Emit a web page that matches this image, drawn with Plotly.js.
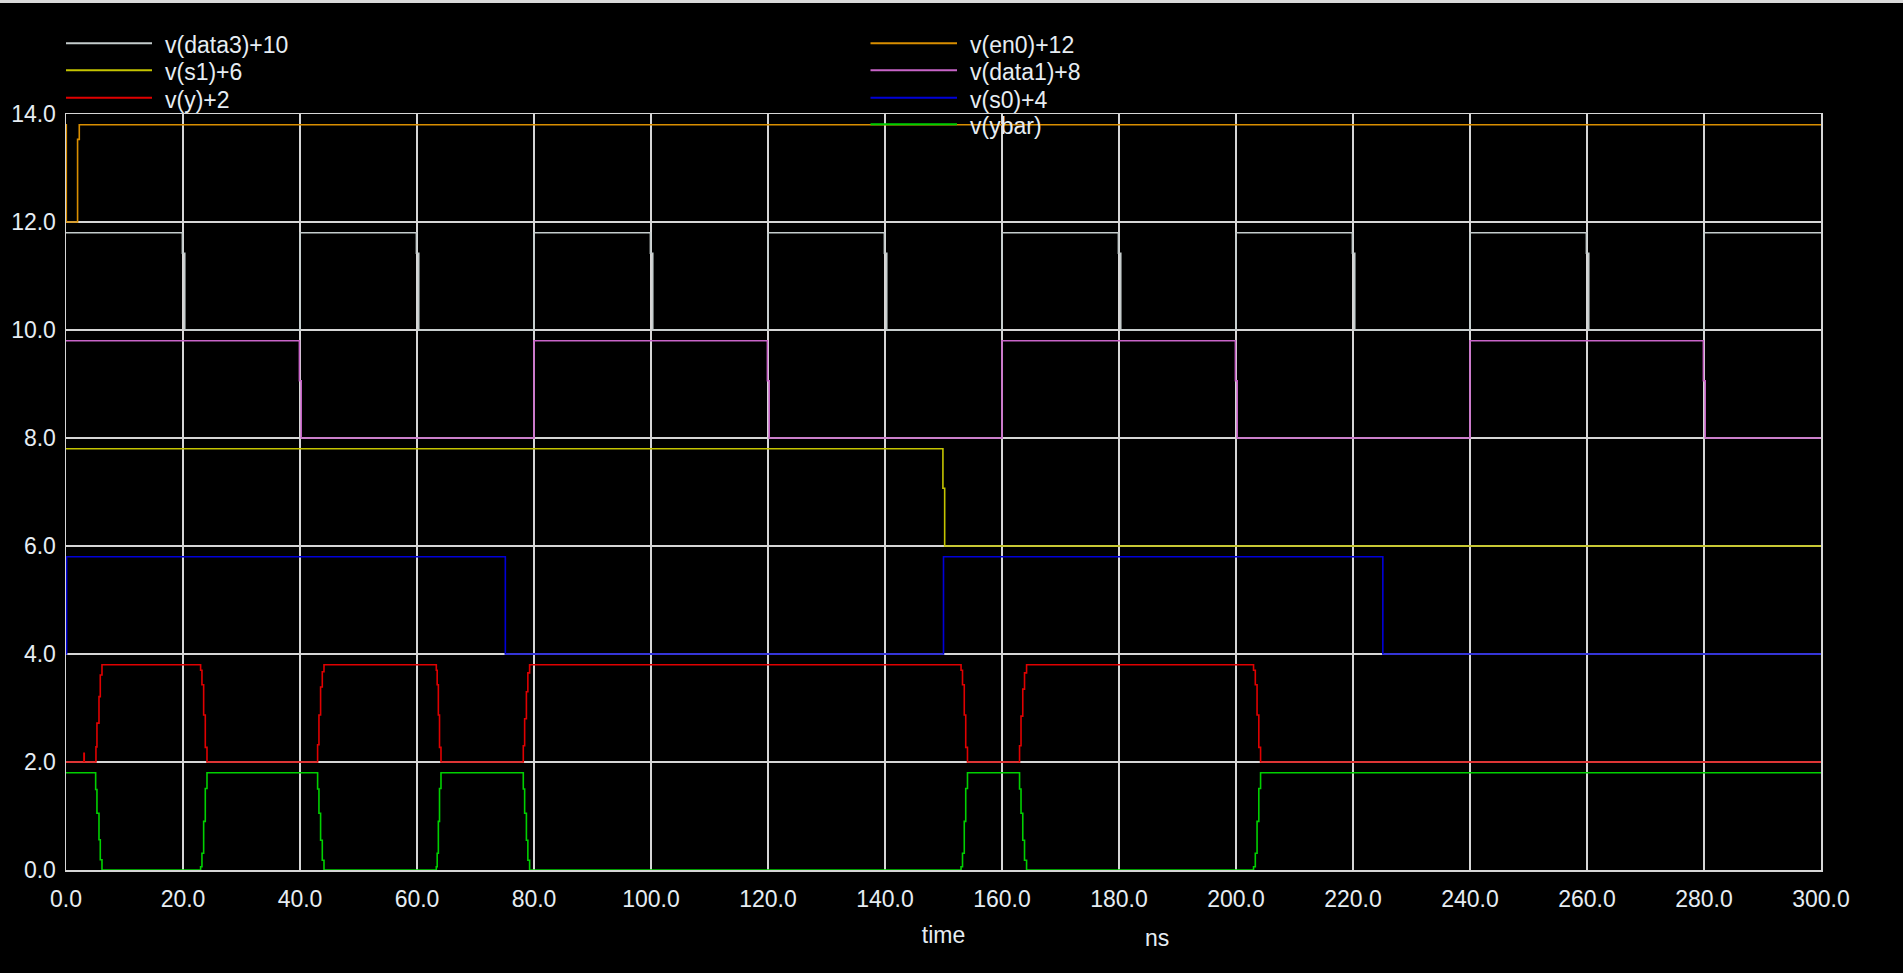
<!DOCTYPE html>
<html><head><meta charset="utf-8">
<script src="https://cdn.plot.ly/plotly-3.0.1.min.js"></script>
<style>
html,body{margin:0;padding:0;background:#000;overflow:hidden}
#strip{height:3px;background:#d9d9d9}
#chart{width:1903px;height:970px}
</style></head>
<body><div id="strip"></div><div id="chart"></div>
<script>
// ---------------- DATA (raw node voltages, V; time in ns) ----------------
const seriesNames = ['v(data3)+10','v(en0)+12','v(s1)+6','v(data1)+8','v(y)+2','v(s0)+4','v(ybar)'];
const seriesOffsets = [10, 12, 6, 8, 2, 4, 0];

const t_data3 = [0, 19.9, 20.3, 40, 59.9, 60.3, 80, 99.9, 100.3, 120, 139.9, 140.3, 160, 179.9, 180.3, 200, 219.9, 220.3, 240, 259.9, 260.3, 280, 300];
const v_data3 = [1.8, 1.42, 0, 1.8, 1.42, 0, 1.8, 1.42, 0, 1.8, 1.42, 0, 1.8, 1.42, 0, 1.8, 1.42, 0, 1.8, 1.42, 0, 1.8, 1.8];

const t_en0 = [0, 0.05, 1.98, 2.27, 300];
const v_en0 = [1.8, 0, 1.53, 1.8, 1.8];

const t_s1 = [0, 149.9, 150.2, 300];
const v_s1 = [1.8, 1.07, 0, 0];

const t_data1 = [0, 39.9, 40.2, 80, 119.9, 120.2, 160, 199.9, 200.2, 240, 279.9, 280.2, 300];
const v_data1 = [1.8, 1.06, 0, 1.8, 1.06, 0, 1.8, 1.06, 0, 1.8, 1.06, 0, 0];

const t_y = [0, 3.07, 3.12,
  5.12, 5.29, 5.64, 5.86, 6.15,
  23.01, 23.24, 23.53, 23.81, 24.1,
  43.01, 43.24, 43.52, 43.81, 44.1,
  63.3, 63.45, 63.65, 63.85, 64.1,
  78.17, 78.4, 78.7, 78.95, 79.25,
  153.0, 153.25, 153.55, 153.8, 154.1,
  163.0, 163.25, 163.55, 163.85, 164.2,
  203.0, 203.3, 203.6, 203.9, 204.2,
  300];
const v_y = [0, 0.16, 0,
  0.28, 0.72, 1.21, 1.61, 1.8,
  1.70, 1.43, 0.87, 0.27, 0,
  0.32, 0.87, 1.39, 1.67, 1.8,
  1.70, 1.43, 0.87, 0.27, 0,
  0.3, 0.8, 1.3, 1.65, 1.8,
  1.7, 1.43, 0.87, 0.27, 0,
  0.3, 0.85, 1.35, 1.65, 1.8,
  1.7, 1.43, 0.87, 0.27, 0,
  0];

const t_s0 = [0, 0.1, 75.1, 150, 225.1, 300];
const v_s0 = [0, 1.8, 0, 1.8, 0, 0];

const t_ybar = [0,
  5.07, 5.29, 5.64, 5.86, 6.15,
  23.01, 23.24, 23.53, 23.81, 24.1,
  43.01, 43.24, 43.52, 43.81, 44.1,
  63.3, 63.45, 63.65, 63.85, 64.1,
  78.17, 78.4, 78.7, 78.95, 79.25,
  153.0, 153.25, 153.55, 153.8, 154.1,
  163.0, 163.25, 163.55, 163.85, 164.2,
  203.0, 203.3, 203.6, 203.9, 204.2,
  300];
const v_ybar = [1.8,
  1.49, 1.05, 0.56, 0.19, 0,
  0.06, 0.31, 0.9, 1.51, 1.8,
  1.5, 1.05, 0.55, 0.18, 0,
  0.06, 0.31, 0.9, 1.51, 1.8,
  1.5, 1.05, 0.55, 0.18, 0,
  0.06, 0.31, 0.9, 1.51, 1.8,
  1.5, 1.05, 0.55, 0.18, 0,
  0.06, 0.31, 0.9, 1.51, 1.8,
  1.8];

const xTickVals = [0, 20, 40, 60, 80, 100, 120, 140, 160, 180, 200, 220, 240, 260, 280, 300];
const yTickVals = [0, 2, 4, 6, 8, 10, 12, 14];

// ---------------- STYLE ----------------
const seriesColors = ['#c4cccc', '#d98e00', '#c4c400', '#c864c8', '#e00000', '#0000d8', '#00d000'];
const seriesT = [t_data3, t_en0, t_s1, t_data1, t_y, t_s0, t_ybar];
const seriesV = [v_data3, v_en0, v_s1, v_data1, v_y, v_s0, v_ybar];

const FONT = '"Liberation Sans", Arial, sans-serif';
const TXT = '#e6edf3';
const GRID = '#d6d6d6';

const W = 1903, H = 970;
const M = {l: 66, r: 82, t: 111, b: 103};
const PW = W - M.l - M.r, PH = H - M.t - M.b;
// page pixel (full screenshot coords) -> paper coords
const px = x => (x - M.l) / PW;
const py = y => ((H + 3 - M.b) - y) / PH;  // +3 for the top strip

const traces = seriesNames.map((n, i) => ({
  type: 'scatter', mode: 'lines', name: n,
  x: seriesT[i],
  y: seriesV[i].map(v => v + seriesOffsets[i]),
  line: {color: seriesColors[i], width: 1.6, shape: 'hv'},
  hoverinfo: 'skip'
}));

// Custom legend (two columns), like the simulator's waveform viewer
const legendCols = [
  {idx: [0, 2, 4], x0: 66, x1: 152, tx: 163},
  {idx: [1, 3, 5, 6], x0: 870.5, x1: 957, tx: 968}
];
const rowY = [43.3, 70.3, 97.7, 124.3];
const shapes = [], annotations = [];
legendCols.forEach(col => {
  col.idx.forEach((si, r) => {
    shapes.push({type: 'line', xref: 'paper', yref: 'paper', layer: 'above',
      x0: px(col.x0), x1: px(col.x1), y0: py(rowY[r]), y1: py(rowY[r]),
      line: {color: seriesColors[si], width: 2}});
    annotations.push({xref: 'paper', yref: 'paper', x: px(col.tx), y: py(rowY[r] + 2),
      xanchor: 'left', yanchor: 'middle', showarrow: false, text: seriesNames[si],
      font: {family: FONT, size: 23, color: TXT}});
  });
});
annotations.push({xref: 'paper', yref: 'paper', x: px(1157), y: py(938),
  xanchor: 'center', yanchor: 'middle', showarrow: false, text: 'ns',
  font: {family: FONT, size: 23, color: TXT}});

const axisCommon = {
  showgrid: true, gridcolor: GRID, gridwidth: 1.5,
  showline: true, linecolor: GRID, linewidth: 1.5, mirror: true,
  zeroline: false, ticks: '', layer: 'below traces',
  tickformat: '.1f', tickfont: {family: FONT, size: 23, color: TXT},
  tickmode: 'array', automargin: false, fixedrange: true
};

const layout = {
  width: W, height: H,
  paper_bgcolor: '#000', plot_bgcolor: '#000',
  margin: M, showlegend: false,
  font: {family: FONT, size: 23, color: TXT},
  xaxis: Object.assign({}, axisCommon, {
    range: [0, 300], tickvals: xTickVals, ticklabelstandoff: 8,
    title: {text: 'time', font: {family: FONT, size: 23, color: TXT}, standoff: 16}
  }),
  yaxis: Object.assign({}, axisCommon, {
    range: [0, 14], tickvals: yTickVals, ticklabelstandoff: 4
  }),
  shapes: shapes,
  annotations: annotations
};

Plotly.newPlot('chart', traces, layout, {staticPlot: true, displayModeBar: false});
</script></body></html>
